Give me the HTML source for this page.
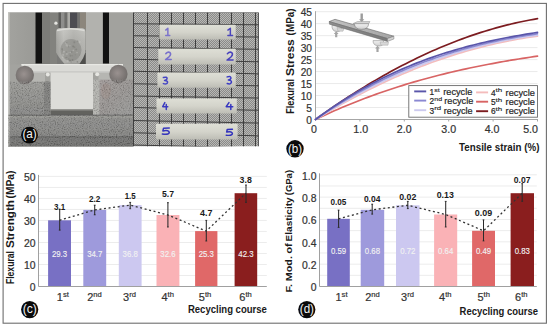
<!DOCTYPE html>
<html><head><meta charset="utf-8"><style>html,body{margin:0;padding:0;background:#fff;}svg{display:block;font-family:"Liberation Sans",sans-serif;}</style></head>
<body><svg width="550" height="327" viewBox="0 0 550 327" font-family="Liberation Sans, sans-serif"><rect x="0" y="0" width="550" height="327" fill="#fff"/>
<defs>
<pattern id="chk" x="0" y="0" width="2" height="2" patternUnits="userSpaceOnUse">
<rect width="2" height="2" fill="#8a8a88"/><rect width="1" height="1" fill="#b8b8b6"/><rect x="1" y="1" width="1" height="1" fill="#b8b8b6"/>
</pattern>
<linearGradient id="bgL" x1="0" x2="1"><stop offset="0" stop-color="#a2a29e"/><stop offset="1" stop-color="#9a9a96"/></linearGradient>
<linearGradient id="head" x1="0" x2="1"><stop offset="0" stop-color="#9a9a96"/><stop offset="0.25" stop-color="#cacac6"/><stop offset="0.6" stop-color="#acaca8"/><stop offset="1" stop-color="#c2c2be"/></linearGradient>
<radialGradient id="cyl" cx="0.45" cy="0.45" r="0.6"><stop offset="0" stop-color="#9a9290"/><stop offset="1" stop-color="#6e6a68"/></radialGradient>
<linearGradient id="base" x1="0" y1="0" x2="0" y2="1"><stop offset="0" stop-color="#8a8a88"/><stop offset="0.65" stop-color="#7e7e7c"/><stop offset="0.7" stop-color="#6e6e6c"/><stop offset="1" stop-color="#6a6a68"/></linearGradient>
<linearGradient id="blkL" x1="0" y1="0" x2="0" y2="1"><stop offset="0" stop-color="#969692"/><stop offset="1" stop-color="#828280"/></linearGradient>
<linearGradient id="blkR" x1="0" y1="0" x2="1" y2="1"><stop offset="0" stop-color="#9c9694"/><stop offset="0.5" stop-color="#94908e"/><stop offset="1" stop-color="#959593"/></linearGradient>
<linearGradient id="strip" x1="0" y1="0" x2="0" y2="1"><stop offset="0" stop-color="#dedfd6"/><stop offset="0.5" stop-color="#d4d4cb"/><stop offset="1" stop-color="#bdbdb5"/></linearGradient>
<linearGradient id="beamTop" x1="0" y1="0" x2="0" y2="1"><stop offset="0" stop-color="#bdbdbd"/><stop offset="1" stop-color="#9a9a9a"/></linearGradient>
</defs>
<rect x="3.1" y="3.4" width="543.3" height="319.8" fill="none" stroke="#6e6e6e" stroke-width="1.1"/>
<rect x="8" y="12.5" width="125" height="134.0" fill="#a3a39f"/>
<rect x="8" y="12.5" width="1.6" height="134.0" fill="#c6c6c2"/>
<rect x="9.6" y="12.5" width="26" height="52" fill="url(#bgL)"/>
<rect x="42" y="12.5" width="44" height="52" fill="#82827e"/>
<rect x="57" y="50" width="29" height="14.5" fill="#7a7a78"/>
<rect x="78" y="50" width="9.5" height="14.5" fill="#4e4e4c"/>
<rect x="42" y="12.5" width="8" height="52" fill="#7c7c78"/>
<rect x="35.5" y="12.5" width="6.5" height="51.0" fill="#121212"/>
<rect x="102.7" y="12.5" width="6.3" height="51.0" fill="#121212"/>
<rect x="85.8" y="12.5" width="16.9" height="52" fill="#b2b2ae"/>
<rect x="109" y="12.5" width="24" height="52" fill="#a2a29e"/>
<rect x="58.5" y="12.5" width="2.5" height="16" fill="#5c5c5a"/>
<rect x="61" y="12.5" width="3.5" height="16" fill="#8e8e8c"/>
<rect x="64.5" y="12.5" width="3.0" height="16" fill="#6e6e6c"/>
<rect x="67.5" y="12.5" width="2.5" height="16" fill="#acaca8"/>
<rect x="70" y="12.5" width="7.5" height="16" fill="#4c4c52"/>
<rect x="77.5" y="12.5" width="2.5" height="16" fill="#727270"/>
<rect x="80" y="12.5" width="6" height="16" fill="#8c867c"/>
<circle cx="55.9" cy="23.2" r="1.6" fill="#e4e4e0"/>
<defs><linearGradient id="headv" x1="0" y1="0" x2="0" y2="1"><stop offset="0" stop-color="#c6c6c2"/><stop offset="0.35" stop-color="#aeaeaa"/><stop offset="1" stop-color="#9c9c98"/></linearGradient></defs>
<path d="M56.2,32 Q56.2,28.3 60,28.3 L81.5,28.3 Q85.4,28.3 85.4,32 L85.4,52.3 Q84,57.5 79.5,63.7 L64.5,63.7 Q58.5,57.5 56.2,52.3 Z" fill="url(#headv)"/>
<path d="M56.2,32 Q56.2,28.3 60,28.3 L81.5,28.3 Q85.4,28.3 85.4,32 L85.4,52.3 Q84,57.5 79.5,63.7 L64.5,63.7 Q58.5,57.5 56.2,52.3 Z" fill="url(#head)" opacity="0.45"/>
<ellipse cx="71" cy="50" rx="10.5" ry="11" fill="#7c7c78" opacity="0.45"/>
<g opacity="0.35"><circle cx="66.3" cy="52.0" r="0.72" fill="#6e6e6a"/><circle cx="70.5" cy="52.8" r="0.86" fill="#d0d0cc"/><circle cx="66.7" cy="45.2" r="1.10" fill="#d0d0cc"/><circle cx="71.7" cy="52.1" r="0.74" fill="#5e5e5a"/><circle cx="66.2" cy="43.3" r="1.06" fill="#d0d0cc"/><circle cx="75.3" cy="54.8" r="0.54" fill="#6e6e6a"/><circle cx="62.8" cy="57.2" r="0.99" fill="#d0d0cc"/><circle cx="70.5" cy="55.8" r="1.03" fill="#6e6e6a"/><circle cx="76.2" cy="49.4" r="0.94" fill="#6e6e6a"/><circle cx="70.0" cy="60.6" r="1.03" fill="#5e5e5a"/><circle cx="62.6" cy="50.9" r="0.65" fill="#6e6e6a"/><circle cx="69.9" cy="53.8" r="0.68" fill="#6e6e6a"/><circle cx="77.0" cy="52.6" r="0.82" fill="#d0d0cc"/><circle cx="72.5" cy="59.9" r="0.91" fill="#5e5e5a"/><circle cx="77.4" cy="61.8" r="0.90" fill="#5e5e5a"/><circle cx="74.6" cy="47.2" r="0.83" fill="#6e6e6a"/><circle cx="72.2" cy="55.7" r="0.63" fill="#6e6e6a"/><circle cx="66.8" cy="42.7" r="0.79" fill="#6e6e6a"/><circle cx="79.8" cy="41.9" r="0.98" fill="#d0d0cc"/><circle cx="78.1" cy="40.4" r="0.76" fill="#d0d0cc"/><circle cx="77.7" cy="41.0" r="0.87" fill="#5e5e5a"/><circle cx="68.8" cy="52.9" r="0.83" fill="#d0d0cc"/><circle cx="71.1" cy="62.0" r="0.69" fill="#5e5e5a"/><circle cx="63.9" cy="51.8" r="1.07" fill="#d0d0cc"/><circle cx="67.2" cy="45.8" r="0.91" fill="#d0d0cc"/><circle cx="67.6" cy="61.1" r="1.04" fill="#d0d0cc"/><circle cx="68.8" cy="59.1" r="0.73" fill="#6e6e6a"/><circle cx="74.3" cy="42.3" r="1.08" fill="#6e6e6a"/><circle cx="66.9" cy="54.0" r="0.93" fill="#d0d0cc"/><circle cx="69.9" cy="45.7" r="0.68" fill="#d0d0cc"/><circle cx="62.2" cy="49.1" r="0.85" fill="#5e5e5a"/><circle cx="68.8" cy="53.0" r="0.58" fill="#6e6e6a"/><circle cx="73.3" cy="50.3" r="0.91" fill="#d0d0cc"/><circle cx="73.0" cy="46.1" r="0.79" fill="#6e6e6a"/><circle cx="63.1" cy="54.9" r="1.08" fill="#d0d0cc"/><circle cx="73.3" cy="46.6" r="0.86" fill="#5e5e5a"/><circle cx="68.6" cy="46.9" r="0.72" fill="#6e6e6a"/><circle cx="66.8" cy="57.3" r="0.56" fill="#5e5e5a"/><circle cx="79.5" cy="55.0" r="0.58" fill="#6e6e6a"/><circle cx="66.0" cy="57.7" r="0.64" fill="#5e5e5a"/></g>
<path d="M57,30.5 Q70.5,27 84.5,30.5" stroke="#dcdcd8" stroke-width="1.6" fill="none"/>
<rect x="25" y="65.5" width="20" height="19.3" rx="3" fill="#b6b6b2"/>
<rect x="98.5" y="64.5" width="20" height="19.3" rx="3" fill="#b6b6b2"/>
<rect x="50.5" y="65" width="42.5" height="44.6" fill="#dcdcd8"/>
<rect x="21.5" y="64" width="101.5" height="8.4" fill="#dadad6"/>
<rect x="21.5" y="64" width="101.5" height="1.2" fill="#e8e8e4"/>
<rect x="21.5" y="71.4" width="101.5" height="1" fill="#c2c2be"/>
<circle cx="47.8" cy="74.5" r="2" fill="#e6e6e2"/><circle cx="97.2" cy="74.2" r="2" fill="#e6e6e2"/>
<rect x="9.6" y="81.6" width="34.4" height="33.4" fill="url(#blkL)"/>
<rect x="44" y="81.6" width="6.5" height="33.4" fill="#7a7a78"/>
<rect x="93" y="79.7" width="6.5" height="35.3" fill="#b0b0ac"/>
<rect x="99.5" y="79.7" width="33.5" height="35.3" fill="url(#blkR)"/>
<ellipse cx="106" cy="91" rx="5" ry="8" fill="#8a5444" opacity="0.12"/>
<rect x="50.5" y="109.6" width="42.5" height="5.4" fill="#62625e"/>
<rect x="50.5" y="109.6" width="42.5" height="1" fill="#8a8a86"/>
<circle cx="24.8" cy="75" r="9.2" fill="url(#cyl)"/>
<circle cx="118.4" cy="74" r="9.2" fill="url(#cyl)"/>
<rect x="8" y="115" width="125" height="31.5" fill="url(#base)"/>
<rect x="8" y="115" width="125" height="2.8" fill="#92928e"/>
<rect x="8" y="114.6" width="125" height="1.1" fill="#5e5e5c"/>
<g stroke="#8e8e8a" stroke-width="0.7" opacity="0.5"><line x1="12" y1="118" x2="21" y2="135"/><line x1="19" y1="118" x2="28" y2="135"/><line x1="26" y1="118" x2="35" y2="135"/><line x1="33" y1="118" x2="42" y2="135"/><line x1="40" y1="118" x2="49" y2="135"/><line x1="47" y1="118" x2="56" y2="135"/><line x1="54" y1="118" x2="63" y2="135"/><line x1="61" y1="118" x2="70" y2="135"/><line x1="68" y1="118" x2="77" y2="135"/><line x1="75" y1="118" x2="84" y2="135"/><line x1="82" y1="118" x2="91" y2="135"/><line x1="89" y1="118" x2="98" y2="135"/><line x1="96" y1="118" x2="105" y2="135"/><line x1="103" y1="118" x2="112" y2="135"/><line x1="110" y1="118" x2="119" y2="135"/><line x1="117" y1="118" x2="126" y2="135"/><line x1="124" y1="118" x2="133" y2="135"/></g>
<rect x="8" y="136.4" width="125" height="1.1" fill="#585856"/>
<rect x="8" y="12.5" width="1.6" height="134.0" fill="#c0c0bc" opacity="0.7"/>
<filter id="grain" x="0" y="0" width="100%" height="100%"><feTurbulence type="fractalNoise" baseFrequency="0.85" numOctaves="2" seed="4"/><feColorMatrix type="matrix" values="2.6 0 0 0 -0.8  2.6 0 0 0 -0.8  2.6 0 0 0 -0.8  0 0 0 0 1"/></filter>
<clipPath id="grc"><rect x="9.6" y="81.6" width="41" height="33.4"/><rect x="93" y="79.7" width="40" height="35.3"/><rect x="8" y="115" width="125" height="31.5"/></clipPath>
<g clip-path="url(#grc)"><rect x="8" y="79" width="125" height="68" filter="url(#grain)" opacity="0.13"/></g>
<circle cx="29.5" cy="135.2" r="8.4" fill="#0a0a0a"/>
<text x="29.60" y="138.00" font-size="12.2" text-anchor="middle" font-weight="normal" fill="#f4f4f4" textLength="14.40" lengthAdjust="spacingAndGlyphs" >(a)</text>
<clipPath id="gclip"><rect x="133" y="12.5" width="125.80000000000001" height="134.0"/></clipPath>
<g clip-path="url(#gclip)">
<rect x="133" y="12.5" width="125.80000000000001" height="134.0" fill="url(#chk)"/>
<rect x="133" y="12.5" width="1" height="134.0" fill="#3e3e3e"/>
<rect x="147" y="12.5" width="1" height="134.0" fill="#3e3e3e"/>
<rect x="159" y="12.5" width="1" height="134.0" fill="#3e3e3e"/>
<rect x="171" y="12.5" width="1" height="134.0" fill="#3e3e3e"/>
<rect x="183" y="12.5" width="1" height="134.0" fill="#3e3e3e"/>
<rect x="195" y="12.5" width="1" height="134.0" fill="#3e3e3e"/>
<rect x="207" y="12.5" width="1" height="134.0" fill="#3e3e3e"/>
<rect x="219" y="12.5" width="1" height="134.0" fill="#3e3e3e"/>
<rect x="231" y="12.5" width="1" height="134.0" fill="#3e3e3e"/>
<rect x="243" y="12.5" width="1" height="134.0" fill="#3e3e3e"/>
<rect x="255" y="12.5" width="1" height="134.0" fill="#3e3e3e"/>
<rect x="258" y="12.5" width="1" height="134.0" fill="#3e3e3e"/>
<path d="M133,12.10 L258.8,12.10 L258.8,13.10 L133,13.10 Z" fill="#3e3e3e"/>
<path d="M133,23.20 L258.8,24.20 L258.8,25.20 L133,24.20 Z" fill="#3e3e3e"/>
<path d="M133,35.30 L258.8,36.60 L258.8,37.60 L133,36.30 Z" fill="#3e3e3e"/>
<path d="M133,47.00 L258.8,48.80 L258.8,49.80 L133,48.00 Z" fill="#3e3e3e"/>
<path d="M133,58.80 L258.8,61.20 L258.8,62.20 L133,59.80 Z" fill="#3e3e3e"/>
<path d="M133,70.70 L258.8,73.40 L258.8,74.40 L133,71.70 Z" fill="#3e3e3e"/>
<path d="M133,83.20 L258.8,85.30 L258.8,86.30 L133,84.20 Z" fill="#3e3e3e"/>
<path d="M133,95.40 L258.8,97.50 L258.8,98.50 L133,96.40 Z" fill="#3e3e3e"/>
<path d="M133,107.10 L258.8,109.70 L258.8,110.70 L133,108.10 Z" fill="#3e3e3e"/>
<path d="M133,119.90 L258.8,122.60 L258.8,123.60 L133,120.90 Z" fill="#3e3e3e"/>
<path d="M133,132.30 L258.8,135.40 L258.8,136.40 L133,133.30 Z" fill="#3e3e3e"/>
<path d="M133,144.50 L258.8,147.40 L258.8,148.40 L133,145.50 Z" fill="#3e3e3e"/>
</g>
<rect x="159.3" y="24.8" width="76.39999999999998" height="14.8" fill="url(#strip)" rx="0.8"/>
<path d="M165.75,30.08 L167.87,28.25 L167.87,35.55 M165.75,35.55 L169.75,35.55 " fill="none" stroke="#7c74cc" stroke-width="1.5" stroke-linecap="round" stroke-linejoin="round"/>
<path d="M227.88,30.08 L230.35,28.25 L230.35,35.55 M227.88,35.55 L232.55,35.55 " fill="none" stroke="#4c46bc" stroke-width="1.5" stroke-linecap="round" stroke-linejoin="round"/>
<rect x="158.3" y="48.8" width="77.5" height="15.799999999999997" fill="url(#strip)" rx="0.8"/>
<path d="M165.84,53.62 Q168.12,51.19 170.11,52.71 Q171.53,54.61 168.97,56.89 L165.55,59.55 L171.25,59.40 " fill="none" stroke="#7870cc" stroke-width="1.5" stroke-linecap="round" stroke-linejoin="round"/>
<path d="M227.36,53.73 Q229.79,51.14 231.93,52.76 Q233.45,54.78 230.71,57.22 L227.05,60.05 L233.15,59.89 " fill="none" stroke="#4842bc" stroke-width="1.5" stroke-linecap="round" stroke-linejoin="round"/>
<rect x="157.4" y="72.4" width="78.4" height="15.399999999999991" fill="url(#strip)" rx="0.8"/>
<path d="M163.38,77.54 Q167.29,76.36 167.06,78.80 Q166.60,80.28 164.53,80.43 Q167.98,80.65 167.52,82.50 Q166.83,84.72 163.38,83.61 " fill="none" stroke="#4444c4" stroke-width="1.5" stroke-linecap="round" stroke-linejoin="round"/>
<path d="M227.19,76.90 Q231.18,75.60 230.94,78.28 Q230.47,79.90 228.36,80.06 Q231.88,80.30 231.41,82.33 Q230.71,84.76 227.19,83.54 " fill="none" stroke="#3a3ac4" stroke-width="1.5" stroke-linecap="round" stroke-linejoin="round"/>
<rect x="156.5" y="98.4" width="80.30000000000001" height="15.199999999999989" fill="url(#strip)" rx="0.8"/>
<path d="M164.84,102.55 L162.72,106.69 L167.75,106.69 M166.27,104.62 L166.27,109.45 " fill="none" stroke="#3c3cc0" stroke-width="1.5" stroke-linecap="round" stroke-linejoin="round"/>
<path d="M228.96,102.55 L226.20,106.69 L232.75,106.69 M230.82,104.62 L230.82,109.45 " fill="none" stroke="#3636c0" stroke-width="1.5" stroke-linecap="round" stroke-linejoin="round"/>
<rect x="156" y="123.7" width="81.6" height="15.899999999999991" fill="url(#strip)" rx="0.8"/>
<path d="M169.26,128.10 L163.49,128.31 L162.87,130.90 Q169.26,129.85 169.26,132.51 Q168.88,134.89 162.34,134.05 " fill="none" stroke="#3636bc" stroke-width="1.5" stroke-linecap="round" stroke-linejoin="round"/>
<path d="M232.41,129.30 L227.23,129.50 L226.68,132.06 Q232.41,131.02 232.41,133.64 Q232.06,135.99 226.20,135.16 " fill="none" stroke="#3232bc" stroke-width="1.5" stroke-linecap="round" stroke-linejoin="round"/>
<line x1="315.5" y1="107.52" x2="537.5" y2="107.52" stroke="#eaeaea" stroke-width="1"/>
<line x1="315.5" y1="95.54" x2="537.5" y2="95.54" stroke="#eaeaea" stroke-width="1"/>
<line x1="315.5" y1="83.57" x2="537.5" y2="83.57" stroke="#eaeaea" stroke-width="1"/>
<line x1="315.5" y1="71.59" x2="537.5" y2="71.59" stroke="#eaeaea" stroke-width="1"/>
<line x1="315.5" y1="59.61" x2="537.5" y2="59.61" stroke="#eaeaea" stroke-width="1"/>
<line x1="315.5" y1="47.63" x2="537.5" y2="47.63" stroke="#eaeaea" stroke-width="1"/>
<line x1="315.5" y1="35.66" x2="537.5" y2="35.66" stroke="#eaeaea" stroke-width="1"/>
<line x1="315.5" y1="23.68" x2="537.5" y2="23.68" stroke="#eaeaea" stroke-width="1"/>
<line x1="315.5" y1="11.70" x2="537.5" y2="11.70" stroke="#eaeaea" stroke-width="1"/>
<line x1="315.5" y1="11.20" x2="315.5" y2="119.50" stroke="#a6a6a6" stroke-width="1"/>
<line x1="315.5" y1="119.50" x2="538.0" y2="119.50" stroke="#a6a6a6" stroke-width="1"/>
<line x1="359.9" y1="119.50" x2="359.9" y2="121.50" stroke="#a6a6a6" stroke-width="1"/>
<line x1="404.3" y1="119.50" x2="404.3" y2="121.50" stroke="#a6a6a6" stroke-width="1"/>
<line x1="448.7" y1="119.50" x2="448.7" y2="121.50" stroke="#a6a6a6" stroke-width="1"/>
<line x1="493.1" y1="119.50" x2="493.1" y2="121.50" stroke="#a6a6a6" stroke-width="1"/>
<line x1="537.5" y1="119.50" x2="537.5" y2="121.50" stroke="#a6a6a6" stroke-width="1"/>
<text x="312.00" y="123.60" font-size="10.2" text-anchor="end" font-weight="normal" fill="#333"  stroke="#333" stroke-width="0.22">0</text>
<text x="312.00" y="111.62" font-size="10.2" text-anchor="end" font-weight="normal" fill="#333"  stroke="#333" stroke-width="0.22">5</text>
<text x="312.00" y="99.64" font-size="10.2" text-anchor="end" font-weight="normal" fill="#333"  stroke="#333" stroke-width="0.22">10</text>
<text x="312.00" y="87.67" font-size="10.2" text-anchor="end" font-weight="normal" fill="#333"  stroke="#333" stroke-width="0.22">15</text>
<text x="312.00" y="75.69" font-size="10.2" text-anchor="end" font-weight="normal" fill="#333"  stroke="#333" stroke-width="0.22">20</text>
<text x="312.00" y="63.71" font-size="10.2" text-anchor="end" font-weight="normal" fill="#333"  stroke="#333" stroke-width="0.22">25</text>
<text x="312.00" y="51.73" font-size="10.2" text-anchor="end" font-weight="normal" fill="#333"  stroke="#333" stroke-width="0.22">30</text>
<text x="312.00" y="39.76" font-size="10.2" text-anchor="end" font-weight="normal" fill="#333"  stroke="#333" stroke-width="0.22">35</text>
<text x="312.00" y="27.78" font-size="10.2" text-anchor="end" font-weight="normal" fill="#333"  stroke="#333" stroke-width="0.22">40</text>
<text x="312.00" y="15.80" font-size="10.2" text-anchor="end" font-weight="normal" fill="#333"  stroke="#333" stroke-width="0.22">45</text>
<text x="314.00" y="132.80" font-size="10.8" text-anchor="middle" font-weight="normal" fill="#333" textLength="5.90" lengthAdjust="spacingAndGlyphs"  stroke="#333" stroke-width="0.22">0</text>
<text x="360.70" y="132.80" font-size="10.8" text-anchor="middle" font-weight="normal" fill="#333" textLength="14.80" lengthAdjust="spacingAndGlyphs"  stroke="#333" stroke-width="0.22">1.0</text>
<text x="404.20" y="132.80" font-size="10.8" text-anchor="middle" font-weight="normal" fill="#333" textLength="14.80" lengthAdjust="spacingAndGlyphs"  stroke="#333" stroke-width="0.22">2.0</text>
<text x="448.70" y="132.80" font-size="10.8" text-anchor="middle" font-weight="normal" fill="#333" textLength="14.80" lengthAdjust="spacingAndGlyphs"  stroke="#333" stroke-width="0.22">3.0</text>
<text x="492.10" y="132.80" font-size="10.8" text-anchor="middle" font-weight="normal" fill="#333" textLength="14.80" lengthAdjust="spacingAndGlyphs"  stroke="#333" stroke-width="0.22">4.0</text>
<text x="530.60" y="132.80" font-size="10.8" text-anchor="middle" font-weight="normal" fill="#333" textLength="14.80" lengthAdjust="spacingAndGlyphs"  stroke="#333" stroke-width="0.22">5.0</text>
<text transform="translate(293.9,113.81) rotate(-90)" font-size="10.3" font-weight="bold" fill="#1a1a1a" textLength="34.73" lengthAdjust="spacingAndGlyphs">Flexural</text>
<text transform="translate(293.9,76.11) rotate(-90)" font-size="10.3" font-weight="bold" fill="#1a1a1a" textLength="36.93" lengthAdjust="spacingAndGlyphs">Stress</text>
<text transform="translate(293.9,35.41) rotate(-90)" font-size="10.3" font-weight="bold" fill="#1a1a1a" textLength="27.03" lengthAdjust="spacingAndGlyphs">(MPa)</text>
<text x="459.00" y="151.00" font-size="10.6" text-anchor="start" font-weight="bold" fill="#1a1a1a" textLength="80.40" lengthAdjust="spacingAndGlyphs" >Tensile strain (%)</text>
<path d="M315.50,119.50 L319.26,116.79 L323.03,114.12 L326.79,111.47 L330.55,108.86 L334.31,106.28 L338.08,103.74 L341.84,101.23 L345.60,98.75 L349.36,96.30 L353.13,93.89 L356.89,91.51 L360.65,89.16 L364.42,86.85 L368.18,84.57 L371.94,82.33 L375.70,80.12 L379.47,77.94 L383.23,75.80 L386.99,73.69 L390.75,71.61 L394.52,69.57 L398.28,67.57 L402.04,65.60 L405.81,63.66 L409.57,61.76 L413.33,59.89 L417.09,58.06 L420.86,56.27 L424.62,54.51 L428.38,52.78 L432.14,51.09 L435.91,49.44 L439.67,47.82 L443.43,46.24 L447.19,44.69 L450.96,43.18 L454.72,41.71 L458.48,40.27 L462.25,38.87 L466.01,37.50 L469.77,36.17 L473.53,34.88 L477.30,33.63 L481.06,32.41 L484.82,31.23 L488.58,30.08 L492.35,28.98 L496.11,27.91 L499.87,26.88 L503.64,25.88 L507.40,24.93 L511.16,24.01 L514.92,23.13 L518.69,22.28 L522.45,21.48 L526.21,20.71 L529.97,19.99 L533.74,19.30 L537.50,18.64" fill="none" stroke="#7c1c20" stroke-width="1.7" stroke-linejoin="round" stroke-linecap="round"/>
<path d="M315.50,119.50 L319.26,117.71 L323.03,115.94 L326.79,114.21 L330.55,112.51 L334.31,110.84 L338.08,109.20 L341.84,107.59 L345.60,106.01 L349.36,104.45 L353.13,102.93 L356.89,101.44 L360.65,99.97 L364.42,98.53 L368.18,97.12 L371.94,95.73 L375.70,94.38 L379.47,93.04 L383.23,91.74 L386.99,90.46 L390.75,89.20 L394.52,87.97 L398.28,86.77 L402.04,85.59 L405.81,84.43 L409.57,83.29 L413.33,82.18 L417.09,81.09 L420.86,80.03 L424.62,78.98 L428.38,77.96 L432.14,76.96 L435.91,75.98 L439.67,75.02 L443.43,74.08 L447.19,73.16 L450.96,72.26 L454.72,71.38 L458.48,70.51 L462.25,69.67 L466.01,68.84 L469.77,68.04 L473.53,67.25 L477.30,66.47 L481.06,65.71 L484.82,64.97 L488.58,64.25 L492.35,63.54 L496.11,62.84 L499.87,62.16 L503.64,61.50 L507.40,60.85 L511.16,60.21 L514.92,59.59 L518.69,58.98 L522.45,58.38 L526.21,57.79 L529.97,57.22 L533.74,56.66 L537.50,56.11" fill="none" stroke="#d86464" stroke-width="1.7" stroke-linejoin="round" stroke-linecap="round"/>
<path d="M315.50,119.50 L319.26,117.21 L323.03,114.94 L326.79,112.71 L330.55,110.50 L334.31,108.33 L338.08,106.18 L341.84,104.07 L345.60,101.98 L349.36,99.92 L353.13,97.90 L356.89,95.90 L360.65,93.93 L364.42,92.00 L368.18,90.09 L371.94,88.21 L375.70,86.37 L379.47,84.55 L383.23,82.76 L386.99,81.01 L390.75,79.28 L394.52,77.59 L398.28,75.92 L402.04,74.29 L405.81,72.68 L409.57,71.11 L413.33,69.57 L417.09,68.05 L420.86,66.57 L424.62,65.12 L428.38,63.70 L432.14,62.31 L435.91,60.96 L439.67,59.63 L443.43,58.33 L447.19,57.07 L450.96,55.83 L454.72,54.63 L458.48,53.46 L462.25,52.32 L466.01,51.21 L469.77,50.14 L473.53,49.09 L477.30,48.08 L481.06,47.09 L484.82,46.14 L488.58,45.22 L492.35,44.34 L496.11,43.48 L499.87,42.66 L503.64,41.86 L507.40,41.10 L511.16,40.38 L514.92,39.68 L518.69,39.02 L522.45,38.38 L526.21,37.78 L529.97,37.22 L533.74,36.68 L537.50,36.18" fill="none" stroke="#f4bcbc" stroke-width="1.7" stroke-linejoin="round" stroke-linecap="round"/>
<path d="M315.50,119.50 L319.26,117.06 L323.03,114.66 L326.79,112.30 L330.55,109.97 L334.31,107.68 L338.08,105.43 L341.84,103.22 L345.60,101.04 L349.36,98.90 L353.13,96.80 L356.89,94.73 L360.65,92.70 L364.42,90.71 L368.18,88.75 L371.94,86.83 L375.70,84.95 L379.47,83.10 L383.23,81.28 L386.99,79.50 L390.75,77.76 L394.52,76.05 L398.28,74.37 L402.04,72.73 L405.81,71.12 L409.57,69.55 L413.33,68.01 L417.09,66.51 L420.86,65.04 L424.62,63.60 L428.38,62.19 L432.14,60.82 L435.91,59.48 L439.67,58.18 L443.43,56.90 L447.19,55.66 L450.96,54.45 L454.72,53.27 L458.48,52.13 L462.25,51.01 L466.01,49.93 L469.77,48.88 L473.53,47.85 L477.30,46.86 L481.06,45.90 L484.82,44.97 L488.58,44.08 L492.35,43.21 L496.11,42.37 L499.87,41.56 L503.64,40.78 L507.40,40.03 L511.16,39.31 L514.92,38.62 L518.69,37.95 L522.45,37.32 L526.21,36.71 L529.97,36.13 L533.74,35.59 L537.50,35.06" fill="none" stroke="#cccaee" stroke-width="1.7" stroke-linejoin="round" stroke-linecap="round"/>
<path d="M315.50,119.50 L319.26,116.89 L323.03,114.33 L326.79,111.81 L330.55,109.35 L334.31,106.93 L338.08,104.55 L341.84,102.23 L345.60,99.95 L349.36,97.71 L353.13,95.52 L356.89,93.37 L360.65,91.27 L364.42,89.21 L368.18,87.20 L371.94,85.22 L375.70,83.29 L379.47,81.40 L383.23,79.55 L386.99,77.75 L390.75,75.98 L394.52,74.25 L398.28,72.57 L402.04,70.92 L405.81,69.31 L409.57,67.74 L413.33,66.20 L417.09,64.71 L420.86,63.25 L424.62,61.82 L428.38,60.43 L432.14,59.08 L435.91,57.76 L439.67,56.48 L443.43,55.23 L447.19,54.02 L450.96,52.83 L454.72,51.68 L458.48,50.57 L462.25,49.48 L466.01,48.43 L469.77,47.40 L473.53,46.41 L477.30,45.45 L481.06,44.52 L484.82,43.61 L488.58,42.74 L492.35,41.89 L496.11,41.07 L499.87,40.28 L503.64,39.51 L507.40,38.77 L511.16,38.06 L514.92,37.37 L518.69,36.71 L522.45,36.07 L526.21,35.46 L529.97,34.87 L533.74,34.30 L537.50,33.76" fill="none" stroke="#8a88d2" stroke-width="1.7" stroke-linejoin="round" stroke-linecap="round"/>
<path d="M315.50,119.50 L319.26,116.72 L323.03,113.99 L326.79,111.33 L330.55,108.72 L334.31,106.17 L338.08,103.68 L341.84,101.24 L345.60,98.85 L349.36,96.52 L353.13,94.24 L356.89,92.01 L360.65,89.84 L364.42,87.71 L368.18,85.64 L371.94,83.61 L375.70,81.64 L379.47,79.71 L383.23,77.83 L386.99,75.99 L390.75,74.20 L394.52,72.46 L398.28,70.76 L402.04,69.10 L405.81,67.49 L409.57,65.92 L413.33,64.39 L417.09,62.90 L420.86,61.45 L424.62,60.04 L428.38,58.67 L432.14,57.34 L435.91,56.04 L439.67,54.79 L443.43,53.56 L447.19,52.37 L450.96,51.22 L454.72,50.10 L458.48,49.01 L462.25,47.95 L466.01,46.93 L469.77,45.93 L473.53,44.97 L477.30,44.04 L481.06,43.13 L484.82,42.25 L488.58,41.40 L492.35,40.57 L496.11,39.77 L499.87,39.00 L503.64,38.25 L507.40,37.52 L511.16,36.82 L514.92,36.13 L518.69,35.47 L522.45,34.83 L526.21,34.21 L529.97,33.61 L533.74,33.02 L537.50,32.46" fill="none" stroke="#5a56aa" stroke-width="1.7" stroke-linejoin="round" stroke-linecap="round"/>
<defs><linearGradient id="bt" x1="0" x2="1"><stop offset="0" stop-color="#c2c2c2"/><stop offset="1" stop-color="#a4a4a4"/></linearGradient><linearGradient id="bf" x1="0" x2="1"><stop offset="0" stop-color="#8e8e8e"/><stop offset="1" stop-color="#7a7a7a"/></linearGradient><linearGradient id="sup" x1="0" y1="0" x2="0" y2="1"><stop offset="0" stop-color="#f2f2f2"/><stop offset="1" stop-color="#cfcfcf"/></linearGradient></defs>
<path d="M360.5,13.6 L362.9,13.6 L362.9,19.2 L364.3,19.2 L361.7,22.2 L359.09999999999997,19.2 L360.5,19.2 Z" fill="#9c9c9c"/>
<path d="M335.09999999999997,37.2 L337.3,37.2 L337.3,34.0 L338.59999999999997,34.0 L336.2,31.2 L333.8,34.0 L335.09999999999997,34.0 Z" fill="#a4a4a4"/>
<path d="M376.4,52 L378.6,52 L378.6,48.599999999999994 L379.9,48.599999999999994 L377.5,45.8 L375.1,48.599999999999994 L376.4,48.599999999999994 Z" fill="#a4a4a4"/>
<path d="M332,25.2 L341.5,25.2 Q342.5,31.6 337,31.6 Q331.5,31.3 332,25.2 Z" fill="url(#sup)" stroke="#8a8a8a" stroke-width="0.55"/>
<path d="M337,27.5 L344,28.8 L343,31.2 L338,31.2 Z" fill="#d4d4d4" stroke="#9a9a9a" stroke-width="0.4"/>
<path d="M373,40.6 L383.5,40.6 Q384.5,46 379,46 Q373,45.8 373,40.6 Z" fill="url(#sup)" stroke="#8a8a8a" stroke-width="0.55"/>
<path d="M380,42 L388.5,42 L388,45.2 L381,45.2 Z" fill="#d8d8d8" stroke="#9a9a9a" stroke-width="0.4"/>
<path d="M329.2,21.6 L335,19.3 L393.9,36.2 L387.5,38.6 Z" fill="url(#bt)" stroke="#666" stroke-width="0.6"/>
<path d="M329.2,21.6 L387.5,38.6 L387.5,41.4 L329.5,24.2 Z" fill="url(#bf)" stroke="#666" stroke-width="0.5"/>
<path d="M387.5,38.6 L393.9,36.2 L393.9,39 L387.5,41.4 Z" fill="#d2d2d2" stroke="#777" stroke-width="0.5"/>
<path d="M354.4,23.6 L368.6,23.6 Q368.5,29.3 361.5,29.3 Q354.5,29.3 354.4,23.6 Z" fill="url(#sup)" stroke="#7e7e7e" stroke-width="0.6"/>
<path d="M353,23.6 L357.5,21.6 L370,21.6 L368.6,23.6 Z" fill="#dadada" stroke="#8a8a8a" stroke-width="0.5"/>
<rect x="408.8" y="85.6" width="128.7" height="31.6" fill="#fff" stroke="#6a6a6a" stroke-width="0.9"/>
<line x1="414.2" y1="91.4" x2="426.2" y2="91.4" stroke="#5a56aa" stroke-width="1.9"/>
<text x="429.60" y="94.90" font-size="8.3" text-anchor="start" font-weight="normal" fill="#262626" stroke="#262626" stroke-width="0.2">1</text>
<text x="434.20" y="91.60" font-size="5.8" text-anchor="start" font-weight="normal" fill="#262626" textLength="5.40" lengthAdjust="spacingAndGlyphs" stroke="#262626" stroke-width="0.12">st</text>
<text x="443.30" y="94.90" font-size="8.6" text-anchor="start" font-weight="normal" fill="#262626" textLength="29.00" lengthAdjust="spacingAndGlyphs" stroke="#262626" stroke-width="0.2">recycle</text>
<line x1="414.2" y1="100.6" x2="426.2" y2="100.6" stroke="#8a88d2" stroke-width="1.9"/>
<text x="429.60" y="104.20" font-size="8.3" text-anchor="start" font-weight="normal" fill="#262626" stroke="#262626" stroke-width="0.2">2</text>
<text x="434.20" y="100.90" font-size="5.8" text-anchor="start" font-weight="normal" fill="#262626" textLength="7.90" lengthAdjust="spacingAndGlyphs" stroke="#262626" stroke-width="0.12">nd</text>
<text x="444.30" y="104.20" font-size="8.6" text-anchor="start" font-weight="normal" fill="#262626" textLength="29.00" lengthAdjust="spacingAndGlyphs" stroke="#262626" stroke-width="0.2">recycle</text>
<line x1="414.2" y1="110.2" x2="426.2" y2="110.2" stroke="#cccaee" stroke-width="1.9"/>
<text x="429.60" y="113.70" font-size="8.3" text-anchor="start" font-weight="normal" fill="#262626" stroke="#262626" stroke-width="0.2">3</text>
<text x="434.20" y="110.40" font-size="5.8" text-anchor="start" font-weight="normal" fill="#262626" textLength="7.00" lengthAdjust="spacingAndGlyphs" stroke="#262626" stroke-width="0.12">rd</text>
<text x="443.80" y="113.70" font-size="8.6" text-anchor="start" font-weight="normal" fill="#262626" textLength="28.80" lengthAdjust="spacingAndGlyphs" stroke="#262626" stroke-width="0.2">recycle</text>
<line x1="476.1" y1="92.4" x2="488.1" y2="92.4" stroke="#f4bcbc" stroke-width="1.9"/>
<text x="490.90" y="95.60" font-size="8.3" text-anchor="start" font-weight="normal" fill="#262626" stroke="#262626" stroke-width="0.2">4</text>
<text x="495.50" y="92.30" font-size="5.8" text-anchor="start" font-weight="normal" fill="#262626" textLength="6.70" lengthAdjust="spacingAndGlyphs" stroke="#262626" stroke-width="0.12">th</text>
<text x="505.60" y="95.60" font-size="8.6" text-anchor="start" font-weight="normal" fill="#262626" textLength="29.30" lengthAdjust="spacingAndGlyphs" stroke="#262626" stroke-width="0.2">recycle</text>
<line x1="476.1" y1="101.7" x2="488.1" y2="101.7" stroke="#d86464" stroke-width="1.9"/>
<text x="490.90" y="104.90" font-size="8.3" text-anchor="start" font-weight="normal" fill="#262626" stroke="#262626" stroke-width="0.2">5</text>
<text x="495.50" y="101.60" font-size="5.8" text-anchor="start" font-weight="normal" fill="#262626" textLength="6.70" lengthAdjust="spacingAndGlyphs" stroke="#262626" stroke-width="0.12">th</text>
<text x="505.60" y="104.90" font-size="8.6" text-anchor="start" font-weight="normal" fill="#262626" textLength="29.30" lengthAdjust="spacingAndGlyphs" stroke="#262626" stroke-width="0.2">recycle</text>
<line x1="476.1" y1="111.2" x2="488.1" y2="111.2" stroke="#7c1c20" stroke-width="1.9"/>
<text x="490.90" y="114.30" font-size="8.3" text-anchor="start" font-weight="normal" fill="#262626" stroke="#262626" stroke-width="0.2">6</text>
<text x="495.50" y="111.00" font-size="5.8" text-anchor="start" font-weight="normal" fill="#262626" textLength="6.70" lengthAdjust="spacingAndGlyphs" stroke="#262626" stroke-width="0.12">th</text>
<text x="505.60" y="114.30" font-size="8.6" text-anchor="start" font-weight="normal" fill="#262626" textLength="29.30" lengthAdjust="spacingAndGlyphs" stroke="#262626" stroke-width="0.2">recycle</text>
<circle cx="295" cy="148.8" r="8.7" fill="#0a0a0a"/>
<text x="295.00" y="152.60" font-size="12.2" text-anchor="middle" font-weight="normal" fill="#f4f4f4" textLength="14.20" lengthAdjust="spacingAndGlyphs" >(b)</text>
<line x1="38.5" y1="275.49" x2="266.8" y2="275.49" stroke="#ececec" stroke-width="1"/>
<line x1="38.5" y1="264.48" x2="266.8" y2="264.48" stroke="#ececec" stroke-width="1"/>
<line x1="38.5" y1="253.47" x2="266.8" y2="253.47" stroke="#ececec" stroke-width="1"/>
<line x1="38.5" y1="242.46" x2="266.8" y2="242.46" stroke="#ececec" stroke-width="1"/>
<line x1="38.5" y1="231.45" x2="266.8" y2="231.45" stroke="#ececec" stroke-width="1"/>
<line x1="38.5" y1="220.44" x2="266.8" y2="220.44" stroke="#ececec" stroke-width="1"/>
<line x1="38.5" y1="209.43" x2="266.8" y2="209.43" stroke="#ececec" stroke-width="1"/>
<line x1="38.5" y1="198.42" x2="266.8" y2="198.42" stroke="#ececec" stroke-width="1"/>
<line x1="38.5" y1="187.41" x2="266.8" y2="187.41" stroke="#ececec" stroke-width="1"/>
<line x1="38.5" y1="176.40" x2="266.8" y2="176.40" stroke="#ececec" stroke-width="1"/>
<rect x="48.1" y="220.3" width="22.9" height="66.19999999999999" fill="#7870c4"/>
<rect x="83.3" y="209.9" width="22.900000000000006" height="76.6" fill="#9e9adc"/>
<rect x="118.8" y="205.1" width="22.799999999999997" height="81.4" fill="#ccc8f0"/>
<rect x="156.5" y="215.0" width="22.900000000000006" height="71.5" fill="#fab2b6"/>
<rect x="195.1" y="231.1" width="22.30000000000001" height="55.400000000000006" fill="#e06868"/>
<rect x="234.6" y="193.2" width="22.599999999999994" height="93.30000000000001" fill="#8a1e1e"/>
<line x1="38.5" y1="174.9" x2="38.5" y2="286.5" stroke="#a0a0a0" stroke-width="1"/>
<line x1="38.5" y1="286.5" x2="266.8" y2="286.5" stroke="#a0a0a0" stroke-width="1"/>
<text x="35.50" y="291.20" font-size="10.4" text-anchor="end" font-weight="normal" fill="#333"  stroke="#333" stroke-width="0.22">0</text>
<text x="35.50" y="269.18" font-size="10.4" text-anchor="end" font-weight="normal" fill="#333"  stroke="#333" stroke-width="0.22">10</text>
<text x="35.50" y="247.16" font-size="10.4" text-anchor="end" font-weight="normal" fill="#333"  stroke="#333" stroke-width="0.22">20</text>
<text x="35.50" y="225.14" font-size="10.4" text-anchor="end" font-weight="normal" fill="#333"  stroke="#333" stroke-width="0.22">30</text>
<text x="35.50" y="203.12" font-size="10.4" text-anchor="end" font-weight="normal" fill="#333"  stroke="#333" stroke-width="0.22">40</text>
<text x="35.50" y="181.10" font-size="10.4" text-anchor="end" font-weight="normal" fill="#333"  stroke="#333" stroke-width="0.22">50</text>
<path d="M59.55,220.30 L94.75,209.90 L130.20,205.10 L167.95,215.00 L206.25,231.10 L245.90,193.20" fill="none" stroke="#333" stroke-width="1.3" stroke-dasharray="2,2.6"/>
<line x1="59.7" y1="209.3" x2="59.7" y2="230.2" stroke="#2a2a2a" stroke-width="1.05"/>
<line x1="58.800000000000004" y1="209.4" x2="60.6" y2="209.4" stroke="#2a2a2a" stroke-width="0.9"/>
<line x1="58.800000000000004" y1="230.1" x2="60.6" y2="230.1" stroke="#2a2a2a" stroke-width="0.9"/>
<line x1="94.7" y1="205.10000000000002" x2="94.7" y2="214.89999999999998" stroke="#2a2a2a" stroke-width="1.05"/>
<line x1="93.8" y1="205.20000000000002" x2="95.60000000000001" y2="205.20000000000002" stroke="#2a2a2a" stroke-width="0.9"/>
<line x1="93.8" y1="214.79999999999998" x2="95.60000000000001" y2="214.79999999999998" stroke="#2a2a2a" stroke-width="0.9"/>
<line x1="130.2" y1="202.3" x2="130.2" y2="208.79999999999998" stroke="#2a2a2a" stroke-width="1.05"/>
<line x1="129.29999999999998" y1="202.4" x2="131.1" y2="202.4" stroke="#2a2a2a" stroke-width="0.9"/>
<line x1="129.29999999999998" y1="208.7" x2="131.1" y2="208.7" stroke="#2a2a2a" stroke-width="0.9"/>
<line x1="167.9" y1="202.60000000000002" x2="167.9" y2="227.1" stroke="#2a2a2a" stroke-width="1.05"/>
<line x1="167.0" y1="202.70000000000002" x2="168.8" y2="202.70000000000002" stroke="#2a2a2a" stroke-width="0.9"/>
<line x1="167.0" y1="227.0" x2="168.8" y2="227.0" stroke="#2a2a2a" stroke-width="0.9"/>
<line x1="206.3" y1="220.3" x2="206.3" y2="241.1" stroke="#2a2a2a" stroke-width="1.05"/>
<line x1="205.4" y1="220.4" x2="207.20000000000002" y2="220.4" stroke="#2a2a2a" stroke-width="0.9"/>
<line x1="205.4" y1="241.0" x2="207.20000000000002" y2="241.0" stroke="#2a2a2a" stroke-width="0.9"/>
<line x1="246" y1="184.9" x2="246" y2="202.5" stroke="#2a2a2a" stroke-width="1.05"/>
<line x1="245.1" y1="185.0" x2="246.9" y2="185.0" stroke="#2a2a2a" stroke-width="0.9"/>
<line x1="245.1" y1="202.4" x2="246.9" y2="202.4" stroke="#2a2a2a" stroke-width="0.9"/>
<text x="59.60" y="209.90" font-size="8.6" text-anchor="middle" font-weight="bold" fill="#1a1a1a" textLength="11.20" lengthAdjust="spacingAndGlyphs" >3.1</text>
<text x="94.70" y="202.00" font-size="8.6" text-anchor="middle" font-weight="bold" fill="#1a1a1a" textLength="11.40" lengthAdjust="spacingAndGlyphs" >2.2</text>
<text x="130.20" y="199.30" font-size="8.6" text-anchor="middle" font-weight="bold" fill="#1a1a1a" textLength="11.00" lengthAdjust="spacingAndGlyphs" >1.5</text>
<text x="168.00" y="197.10" font-size="8.6" text-anchor="middle" font-weight="bold" fill="#1a1a1a" textLength="12.00" lengthAdjust="spacingAndGlyphs" >5.7</text>
<text x="206.20" y="216.30" font-size="8.6" text-anchor="middle" font-weight="bold" fill="#1a1a1a" textLength="12.40" lengthAdjust="spacingAndGlyphs" >4.7</text>
<text x="245.70" y="182.90" font-size="8.6" text-anchor="middle" font-weight="bold" fill="#1a1a1a" textLength="12.20" lengthAdjust="spacingAndGlyphs" >3.8</text>
<text x="59.55" y="256.90" font-size="9.4" text-anchor="middle" font-weight="normal" fill="#f2f2f2" textLength="15.20" lengthAdjust="spacingAndGlyphs" stroke="#f2f2f2" stroke-width="0.15">29.3</text>
<text x="94.75" y="256.90" font-size="9.4" text-anchor="middle" font-weight="normal" fill="#f2f2f2" textLength="15.20" lengthAdjust="spacingAndGlyphs" stroke="#f2f2f2" stroke-width="0.15">34.7</text>
<text x="130.20" y="256.90" font-size="9.4" text-anchor="middle" font-weight="normal" fill="#f2f2f2" textLength="15.20" lengthAdjust="spacingAndGlyphs" stroke="#f2f2f2" stroke-width="0.15">36.8</text>
<text x="167.95" y="256.90" font-size="9.4" text-anchor="middle" font-weight="normal" fill="#f2f2f2" textLength="15.20" lengthAdjust="spacingAndGlyphs" stroke="#f2f2f2" stroke-width="0.15">32.6</text>
<text x="206.25" y="256.90" font-size="9.4" text-anchor="middle" font-weight="normal" fill="#f2f2f2" textLength="15.20" lengthAdjust="spacingAndGlyphs" stroke="#f2f2f2" stroke-width="0.15">25.3</text>
<text x="245.90" y="256.90" font-size="9.4" text-anchor="middle" font-weight="normal" fill="#f2f2f2" textLength="15.20" lengthAdjust="spacingAndGlyphs" stroke="#f2f2f2" stroke-width="0.15">42.3</text>
<text transform="translate(14.3,284.10) rotate(-90)" font-size="10" font-weight="bold" fill="#1a1a1a" textLength="33.10" lengthAdjust="spacingAndGlyphs">Flexural</text>
<text transform="translate(14.3,248.10) rotate(-90)" font-size="10" font-weight="bold" fill="#1a1a1a" textLength="48.10" lengthAdjust="spacingAndGlyphs">Strength</text>
<text transform="translate(14.3,198.40) rotate(-90)" font-size="10" font-weight="bold" fill="#1a1a1a" textLength="27.80" lengthAdjust="spacingAndGlyphs">(MPa)</text>
<text x="62.80" y="301.4" font-size="11" fill="#333" stroke="#333" stroke-width="0.2" text-anchor="middle">1<tspan font-size="7.6" dy="-4.2">st</tspan></text>
<text x="94.50" y="301.4" font-size="11" fill="#333" stroke="#333" stroke-width="0.2" text-anchor="middle">2<tspan font-size="7.6" dy="-4.2">nd</tspan></text>
<text x="129.50" y="301.4" font-size="11" fill="#333" stroke="#333" stroke-width="0.2" text-anchor="middle">3<tspan font-size="7.6" dy="-4.2">rd</tspan></text>
<text x="167.70" y="301.4" font-size="11" fill="#333" stroke="#333" stroke-width="0.2" text-anchor="middle">4<tspan font-size="7.6" dy="-4.2">th</tspan></text>
<text x="205.00" y="301.4" font-size="11" fill="#333" stroke="#333" stroke-width="0.2" text-anchor="middle">5<tspan font-size="7.6" dy="-4.2">th</tspan></text>
<text x="245.50" y="301.4" font-size="11" fill="#333" stroke="#333" stroke-width="0.2" text-anchor="middle">6<tspan font-size="7.6" dy="-4.2">th</tspan></text>
<text x="187.90" y="313.40" font-size="10.7" text-anchor="start" font-weight="bold" fill="#1a1a1a" textLength="79.00" lengthAdjust="spacingAndGlyphs" >Recycling course</text>
<circle cx="29.7" cy="309.6" r="8.6" fill="#0a0a0a"/>
<text x="29.80" y="313.00" font-size="12.2" text-anchor="middle" font-weight="normal" fill="#f4f4f4" textLength="14.20" lengthAdjust="spacingAndGlyphs" >(c)</text>
<line x1="319.5" y1="275.33" x2="536.8" y2="275.33" stroke="#ececec" stroke-width="1"/>
<line x1="319.5" y1="264.16" x2="536.8" y2="264.16" stroke="#ececec" stroke-width="1"/>
<line x1="319.5" y1="252.99" x2="536.8" y2="252.99" stroke="#ececec" stroke-width="1"/>
<line x1="319.5" y1="241.82" x2="536.8" y2="241.82" stroke="#ececec" stroke-width="1"/>
<line x1="319.5" y1="230.65" x2="536.8" y2="230.65" stroke="#ececec" stroke-width="1"/>
<line x1="319.5" y1="219.48" x2="536.8" y2="219.48" stroke="#ececec" stroke-width="1"/>
<line x1="319.5" y1="208.31" x2="536.8" y2="208.31" stroke="#ececec" stroke-width="1"/>
<line x1="319.5" y1="197.14" x2="536.8" y2="197.14" stroke="#ececec" stroke-width="1"/>
<line x1="319.5" y1="185.97" x2="536.8" y2="185.97" stroke="#ececec" stroke-width="1"/>
<line x1="319.5" y1="174.80" x2="536.8" y2="174.80" stroke="#ececec" stroke-width="1"/>
<rect x="327.2" y="218.8" width="22.600000000000023" height="67.69999999999999" fill="#7870c4"/>
<rect x="360.7" y="209.8" width="23.5" height="76.69999999999999" fill="#9e9adc"/>
<rect x="396" y="205.3" width="23.5" height="81.19999999999999" fill="#ccc8f0"/>
<rect x="434.1" y="214.5" width="23.099999999999966" height="72.0" fill="#fab2b6"/>
<rect x="472.1" y="230.8" width="22.899999999999977" height="55.69999999999999" fill="#e06868"/>
<rect x="510.6" y="193.2" width="23.399999999999977" height="93.30000000000001" fill="#8a1e1e"/>
<line x1="319.5" y1="173.3" x2="319.5" y2="286.5" stroke="#a0a0a0" stroke-width="1"/>
<line x1="319.5" y1="286.5" x2="536.8" y2="286.5" stroke="#a0a0a0" stroke-width="1"/>
<text x="316.50" y="291.20" font-size="10.4" text-anchor="end" font-weight="normal" fill="#333"  stroke="#333" stroke-width="0.22">0</text>
<text x="316.50" y="268.86" font-size="10.4" text-anchor="end" font-weight="normal" fill="#333"  stroke="#333" stroke-width="0.22">0.2</text>
<text x="316.50" y="246.52" font-size="10.4" text-anchor="end" font-weight="normal" fill="#333"  stroke="#333" stroke-width="0.22">0.4</text>
<text x="316.50" y="224.18" font-size="10.4" text-anchor="end" font-weight="normal" fill="#333"  stroke="#333" stroke-width="0.22">0.6</text>
<text x="316.50" y="201.84" font-size="10.4" text-anchor="end" font-weight="normal" fill="#333"  stroke="#333" stroke-width="0.22">0.8</text>
<text x="316.50" y="179.50" font-size="10.4" text-anchor="end" font-weight="normal" fill="#333"  stroke="#333" stroke-width="0.22">1.0</text>
<path d="M338.50,218.80 L372.45,209.80 L407.75,205.30 L445.65,214.50 L483.55,230.80 L522.30,193.20" fill="none" stroke="#333" stroke-width="1.3" stroke-dasharray="2,2.6"/>
<line x1="338.6" y1="210.0" x2="338.6" y2="227.5" stroke="#2a2a2a" stroke-width="1.05"/>
<line x1="337.70000000000005" y1="210.1" x2="339.5" y2="210.1" stroke="#2a2a2a" stroke-width="0.9"/>
<line x1="337.70000000000005" y1="227.4" x2="339.5" y2="227.4" stroke="#2a2a2a" stroke-width="0.9"/>
<line x1="372.2" y1="204.10000000000002" x2="372.2" y2="214.2" stroke="#2a2a2a" stroke-width="1.05"/>
<line x1="371.3" y1="204.20000000000002" x2="373.09999999999997" y2="204.20000000000002" stroke="#2a2a2a" stroke-width="0.9"/>
<line x1="371.3" y1="214.1" x2="373.09999999999997" y2="214.1" stroke="#2a2a2a" stroke-width="0.9"/>
<line x1="407.8" y1="201.3" x2="407.8" y2="208.7" stroke="#2a2a2a" stroke-width="1.05"/>
<line x1="406.90000000000003" y1="201.4" x2="408.7" y2="201.4" stroke="#2a2a2a" stroke-width="0.9"/>
<line x1="406.90000000000003" y1="208.6" x2="408.7" y2="208.6" stroke="#2a2a2a" stroke-width="0.9"/>
<line x1="445.7" y1="201.3" x2="445.7" y2="227.1" stroke="#2a2a2a" stroke-width="1.05"/>
<line x1="444.8" y1="201.4" x2="446.59999999999997" y2="201.4" stroke="#2a2a2a" stroke-width="0.9"/>
<line x1="444.8" y1="227.0" x2="446.59999999999997" y2="227.0" stroke="#2a2a2a" stroke-width="0.9"/>
<line x1="483.5" y1="219.8" x2="483.5" y2="241.0" stroke="#2a2a2a" stroke-width="1.05"/>
<line x1="482.6" y1="219.9" x2="484.4" y2="219.9" stroke="#2a2a2a" stroke-width="0.9"/>
<line x1="482.6" y1="240.9" x2="484.4" y2="240.9" stroke="#2a2a2a" stroke-width="0.9"/>
<line x1="522.2" y1="183.60000000000002" x2="522.2" y2="201.39999999999998" stroke="#2a2a2a" stroke-width="1.05"/>
<line x1="521.3000000000001" y1="183.70000000000002" x2="523.1" y2="183.70000000000002" stroke="#2a2a2a" stroke-width="0.9"/>
<line x1="521.3000000000001" y1="201.29999999999998" x2="523.1" y2="201.29999999999998" stroke="#2a2a2a" stroke-width="0.9"/>
<text x="338.35" y="204.50" font-size="8.6" text-anchor="middle" font-weight="bold" fill="#1a1a1a" textLength="15.90" lengthAdjust="spacingAndGlyphs" >0.05</text>
<text x="372.15" y="202.10" font-size="8.6" text-anchor="middle" font-weight="bold" fill="#1a1a1a" textLength="16.50" lengthAdjust="spacingAndGlyphs" >0.04</text>
<text x="407.75" y="199.50" font-size="8.6" text-anchor="middle" font-weight="bold" fill="#1a1a1a" textLength="17.10" lengthAdjust="spacingAndGlyphs" >0.02</text>
<text x="445.25" y="197.80" font-size="8.6" text-anchor="middle" font-weight="bold" fill="#1a1a1a" textLength="17.10" lengthAdjust="spacingAndGlyphs" >0.13</text>
<text x="483.50" y="215.90" font-size="8.6" text-anchor="middle" font-weight="bold" fill="#1a1a1a" textLength="17.40" lengthAdjust="spacingAndGlyphs" >0.09</text>
<text x="522.15" y="182.60" font-size="8.6" text-anchor="middle" font-weight="bold" fill="#1a1a1a" textLength="16.70" lengthAdjust="spacingAndGlyphs" >0.07</text>
<text x="338.50" y="253.90" font-size="9.4" text-anchor="middle" font-weight="normal" fill="#f2f2f2" textLength="15.20" lengthAdjust="spacingAndGlyphs" stroke="#f2f2f2" stroke-width="0.15">0.59</text>
<text x="372.45" y="253.90" font-size="9.4" text-anchor="middle" font-weight="normal" fill="#f2f2f2" textLength="15.20" lengthAdjust="spacingAndGlyphs" stroke="#f2f2f2" stroke-width="0.15">0.68</text>
<text x="407.75" y="253.90" font-size="9.4" text-anchor="middle" font-weight="normal" fill="#f2f2f2" textLength="15.20" lengthAdjust="spacingAndGlyphs" stroke="#f2f2f2" stroke-width="0.15">0.72</text>
<text x="445.65" y="253.90" font-size="9.4" text-anchor="middle" font-weight="normal" fill="#f2f2f2" textLength="15.20" lengthAdjust="spacingAndGlyphs" stroke="#f2f2f2" stroke-width="0.15">0.64</text>
<text x="483.55" y="253.90" font-size="9.4" text-anchor="middle" font-weight="normal" fill="#f2f2f2" textLength="15.20" lengthAdjust="spacingAndGlyphs" stroke="#f2f2f2" stroke-width="0.15">0.49</text>
<text x="522.30" y="253.90" font-size="9.4" text-anchor="middle" font-weight="normal" fill="#f2f2f2" textLength="15.20" lengthAdjust="spacingAndGlyphs" stroke="#f2f2f2" stroke-width="0.15">0.83</text>
<text transform="translate(292.4,292.49) rotate(-90)" font-size="9.8" font-weight="bold" fill="#1a1a1a" textLength="36.38" lengthAdjust="spacingAndGlyphs">F. Mod.</text>
<text transform="translate(292.4,253.79) rotate(-90)" font-size="9.8" font-weight="bold" fill="#1a1a1a" textLength="10.58" lengthAdjust="spacingAndGlyphs">of</text>
<text transform="translate(292.4,241.39) rotate(-90)" font-size="9.8" font-weight="bold" fill="#1a1a1a" textLength="43.98" lengthAdjust="spacingAndGlyphs">Elasticity</text>
<text transform="translate(292.4,195.29) rotate(-90)" font-size="9.8" font-weight="bold" fill="#1a1a1a" textLength="25.38" lengthAdjust="spacingAndGlyphs">(GPa)</text>
<text x="341.50" y="301.4" font-size="11" fill="#333" stroke="#333" stroke-width="0.2" text-anchor="middle">1<tspan font-size="7.6" dy="-4.2">st</tspan></text>
<text x="372.50" y="301.4" font-size="11" fill="#333" stroke="#333" stroke-width="0.2" text-anchor="middle">2<tspan font-size="7.6" dy="-4.2">nd</tspan></text>
<text x="407.50" y="301.4" font-size="11" fill="#333" stroke="#333" stroke-width="0.2" text-anchor="middle">3<tspan font-size="7.6" dy="-4.2">rd</tspan></text>
<text x="445.30" y="301.4" font-size="11" fill="#333" stroke="#333" stroke-width="0.2" text-anchor="middle">4<tspan font-size="7.6" dy="-4.2">th</tspan></text>
<text x="483.70" y="301.4" font-size="11" fill="#333" stroke="#333" stroke-width="0.2" text-anchor="middle">5<tspan font-size="7.6" dy="-4.2">th</tspan></text>
<text x="521.30" y="301.4" font-size="11" fill="#333" stroke="#333" stroke-width="0.2" text-anchor="middle">6<tspan font-size="7.6" dy="-4.2">th</tspan></text>
<text x="459.60" y="314.60" font-size="10.7" text-anchor="start" font-weight="bold" fill="#1a1a1a" textLength="78.40" lengthAdjust="spacingAndGlyphs" >Recycling course</text>
<circle cx="306.8" cy="309.6" r="8.6" fill="#0a0a0a"/>
<text x="306.90" y="313.00" font-size="12.2" text-anchor="middle" font-weight="normal" fill="#f4f4f4" textLength="14.20" lengthAdjust="spacingAndGlyphs" >(d)</text></svg></body></html>
